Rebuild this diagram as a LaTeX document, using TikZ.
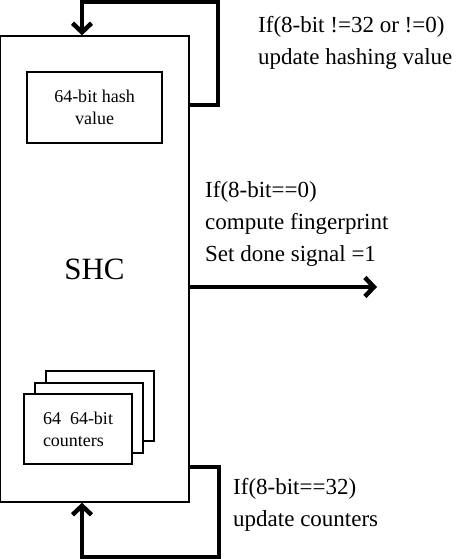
\documentclass[tikz,border=0pt]{standalone}
\usepackage{fontspec}
\setmainfont{Liberation Serif}
\usetikzlibrary{arrows.meta, positioning}

\begin{document}
\begin{tikzpicture}[
        x=1pt, y=-1pt,
        block/.style={rectangle, draw, line width=1.4pt, inner sep=0pt},
        inbox/.style={rectangle, draw, line width=1.3pt, fill=white, align=center, font=\fontsize{18}{22}\selectfont},
        cond/.style={anchor=north west, inner sep=0pt, align=left, font=\fontsize{23}{32}\selectfont},
        loop/.style={line width=4.5pt, -{Straight Barb[length=9pt, width=19pt]}}
    ]
    \useasboundingbox (0,0) rectangle (474,559);

    % Nodes
    \node (shc) [block, minimum width=189pt, minimum height=466pt, font=\fontsize{31}{36}\selectfont] at (94.5,269) {SHC};

    \node (hash) [inbox, minimum width=135pt, minimum height=71pt] at (94.5,107.5) {64-bit hash\\value};

    \node (cnt3) [inbox, minimum width=108pt, minimum height=70pt] at (100,406) {};
    \node (cnt2) [inbox, minimum width=108pt, minimum height=70pt] at (89,418) {};
    \node (cnt1) [inbox, minimum width=108pt, minimum height=70pt, align=left] at (78,429) {64~~64-bit\\counters};

    \node (upd) [cond] at (258,16) {If(8-bit !=32 or !=0)\\update hashing value};
    \node (fp) [cond] at (205,181) {If(8-bit==0)\\compute fingerprint\\Set done signal =1};
    \node (ctr) [cond] at (233,478) {If(8-bit==32)\\update counters};

    \coordinate (topout) at (218,105);
    \coordinate (topturn) at (82,2);
    \coordinate (fpout) at (377,287);
    \coordinate (botout) at (219,467);
    \coordinate (botturn) at (82,557);

    % Arrows
    \draw [loop] (shc.east |- topout) -- (topout) |- (topturn) -- (shc.north -| topturn);
    \draw [loop] (shc.east |- fpout) -- (fpout);
    \draw [loop] (shc.east |- botout) -- (botout) |- (botturn) -- (shc.south -| botturn);

\end{tikzpicture}
\end{document}
